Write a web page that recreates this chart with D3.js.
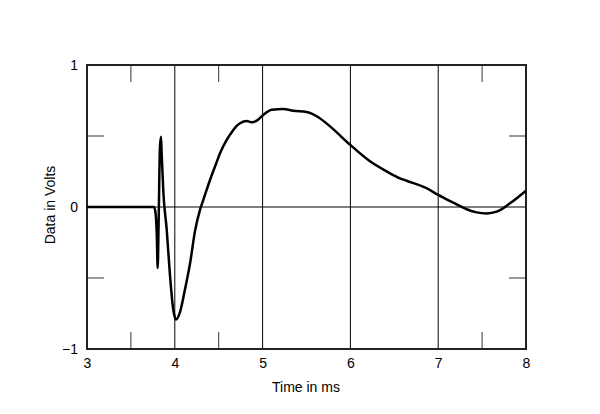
<!DOCTYPE html>
<html>
<head>
<meta charset="utf-8">
<script src="https://cdn.jsdelivr.net/npm/d3@7"></script>
<style>
  body { margin: 0; background: #fff; }
  svg { display: block; font-family: "Liberation Sans", Arial, sans-serif; }
</style>
</head>
<body>
<svg id="chart" width="600" height="414"></svg>
<script>
// time (ms) and voltage
const times = [3.0, 3.763, 3.78, 3.795, 3.805, 3.816, 3.831, 3.843, 3.85, 3.870, 3.908, 3.945, 3.983, 4.014,
  4.059, 4.116, 4.173, 4.230, 4.287, 4.325, 4.401, 4.470, 4.515, 4.591, 4.667, 4.705, 4.743, 4.819, 4.876,
  4.933, 4.997, 5.104, 5.236, 5.35, 5.502, 5.616, 5.768, 5.995, 6.223, 6.413, 6.565, 6.641, 6.869,
  7.0, 7.172, 7.324, 7.438, 7.552, 7.666, 7.818, 8.0];
const volts = [0, 0, -0.04, -0.2, -0.43, -0.1, 0.425, 0.495, 0.38, 0.1, -0.16, -0.48, -0.725, -0.792,
  -0.74, -0.58, -0.40, -0.17, -0.02, 0.05, 0.19, 0.305, 0.378, 0.472, 0.542, 0.572, 0.59, 0.606, 0.597,
  0.608, 0.643, 0.685, 0.69, 0.678, 0.669, 0.639, 0.568, 0.439, 0.322, 0.251, 0.202, 0.185, 0.132,
  0.085, 0.03, -0.016, -0.038, -0.045, -0.033, 0.026, 0.115];

const xTicks = [3, 4, 5, 6, 7, 8];
const yTicks = [-1, 0, 1];
const xMinor = [3.5, 4.5, 7.5];
const yMinor = [-0.5, 0.5];
const xGrid = [4, 5, 6, 7];
const yGrid = [0];

const margin = ({top: 65, right: 74, bottom: 65, left: 87});
const width = 600;
const height = 414;
const font = '"Liberation Sans", Arial, sans-serif';

const svg = d3.select('#chart');

const xScale = d3.scaleLinear()
    .domain([3, 8])
    .range([margin.left, width - margin.right]);

const yScale = d3.scaleLinear()
    .domain([-1, 1])
    .range([height - margin.bottom, margin.top]);

const x0 = xScale(3), x1 = xScale(8), y0 = yScale(-1), y1 = yScale(1);

// grid lines
svg.append('g')
    .selectAll('line')
    .data(xGrid)
    .join('line')
    .attr('x1', d => xScale(d)).attr('x2', d => xScale(d))
    .attr('y1', y1).attr('y2', y0)
    .attr('stroke', '#000').attr('stroke-width', 1);

svg.append('g')
    .selectAll('line')
    .data(yGrid)
    .join('line')
    .attr('x1', x0).attr('x2', x1)
    .attr('y1', d => yScale(d)).attr('y2', d => yScale(d))
    .attr('stroke', '#000').attr('stroke-width', 1);

// minor ticks, top + bottom, left + right
const tl = 17;
const minor = svg.append('g').attr('stroke', '#333').attr('stroke-width', 1);
xMinor.forEach(d => {
    minor.append('line').attr('x1', xScale(d)).attr('x2', xScale(d)).attr('y1', y1).attr('y2', y1 + tl);
    minor.append('line').attr('x1', xScale(d)).attr('x2', xScale(d)).attr('y1', y0).attr('y2', y0 - tl);
});
yMinor.forEach(d => {
    minor.append('line').attr('x1', x0).attr('x2', x0 + tl).attr('y1', yScale(d)).attr('y2', yScale(d));
    minor.append('line').attr('x1', x1).attr('x2', x1 - tl).attr('y1', yScale(d)).attr('y2', yScale(d));
});

// frame
svg.append('rect')
    .attr('x', x0).attr('y', y1)
    .attr('width', x1 - x0).attr('height', y0 - y1)
    .attr('fill', 'none')
    .attr('stroke', '#222')
    .attr('stroke-width', 2);

// axes labels (no domain / tick lines)
const xAxis = g => g.attr('transform', `translate(0, ${y0})`)
    .call(d3.axisBottom(xScale).tickValues(xTicks).tickSize(0).tickPadding(9).tickFormat(d3.format('d')))
    .call(g => g.select('.domain').remove());

const yAxis = g => g.attr('transform', `translate(${x0}, 0)`)
    .call(d3.axisLeft(yScale).tickValues(yTicks).tickSize(0).tickPadding(9).tickFormat(d3.format('d')))
    .call(g => g.select('.domain').remove());

svg.append('g').call(xAxis)
    .selectAll('text').attr('font-size', 14).attr('fill', '#000').attr('font-family', font);
svg.append('g').call(yAxis)
    .selectAll('text').attr('font-size', 14).attr('fill', '#000').attr('font-family', font);

svg.append('text')
    .attr('x', 306)
    .attr('y', 392)
    .attr('text-anchor', 'middle')
    .attr('font-size', 14)
    .attr('font-family', font)
    .text('Time in ms');

svg.append('text')
    .attr('transform', `translate(55, 205) rotate(-90)`)
    .attr('text-anchor', 'middle')
    .attr('font-size', 14)
    .attr('font-family', font)
    .text('Data in Volts');

// the trace
const line = d3.line()
    .x((d, i) => xScale(times[i]))
    .y(d => yScale(d))
    .curve(d3.curveMonotoneX);

svg.append('path')
    .datum(volts)
    .attr('d', line)
    .attr('fill', 'none')
    .attr('stroke', '#000')
    .attr('stroke-width', 2.5)
    .attr('stroke-linejoin', 'round');
</script>
</body>
</html>
